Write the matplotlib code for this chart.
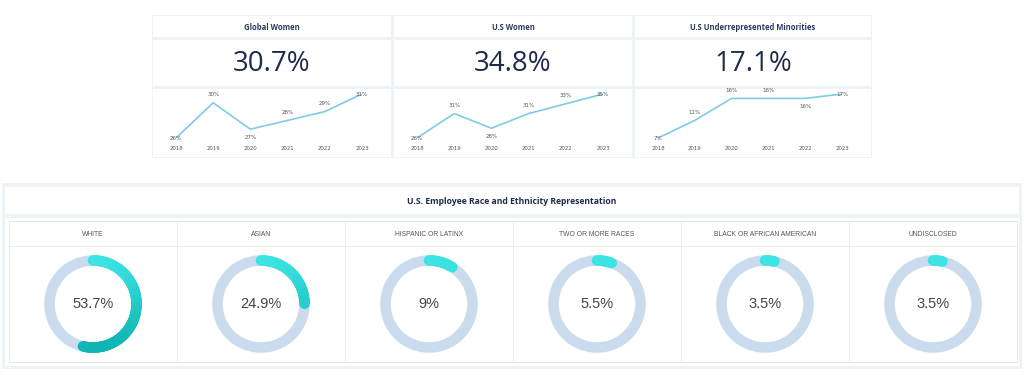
import numpy as np
import matplotlib
matplotlib.use("Agg")
import matplotlib.pyplot as plt
from matplotlib.patches import Rectangle

# ---------------- data ----------------
kpi_titles = ["Global Women", "U.S Women", "U.S Underrepresented Minorities"]
kpi_values = ["30.7%", "34.8%", "17.1%"]
years = [2018, 2019, 2020, 2021, 2022, 2023]
global_women = [26, 30, 27, 28, 29, 31]
us_women = [26, 31, 28, 31, 33, 35]
us_minorities = [7, 11, 16, 16, 16, 17]
series = [global_women, us_women, us_minorities]
# label placement (+1 above, -1 below, 0 on the point)
label_pos = [
    [0, 1, -1, 1, 1, 0],
    [0, 1, -1, 1, 1, 0],
    [0, 1, 1, 1, -1, 0],
]

section_title = "U.S. Employee Race and Ethnicity Representation"
groups = ["WHITE", "ASIAN", "HISPANIC OR LATINX", "TWO OR MORE RACES",
          "BLACK OR AFRICAN AMERICAN", "UNDISCLOSED"]
shares = [53.7, 24.9, 9, 5.5, 3.5, 3.5]

# ---------------- figure ----------------
W, H = 1024, 385
fig = plt.figure(figsize=(W / 100, H / 100), dpi=100)
fig.patch.set_facecolor("white")
bg = fig.add_axes([0, 0, 1, 1])
bg.set_xlim(0, W)
bg.set_ylim(H, 0)
bg.axis("off")

GAP = "#eef3f8"
BORDER = "#e3e9f0"
NAVY = "#1f2b4d"
LINE = "#7fcbe6"


def rect(x0, y0, x1, y1, fc="white", ec="none", lw=0.8, z=1):
    bg.add_patch(Rectangle((x0, y0), x1 - x0, y1 - y0, facecolor=fc,
                           edgecolor=ec, linewidth=lw, zorder=z))


def fig_axes(x0, y0, x1, y1):
    return fig.add_axes([x0 / W, 1 - y1 / H, (x1 - x0) / W, (y1 - y0) / H])


# top KPI panels
panel_x = [(153, 391), (394, 632), (635, 871)]
rect(152, 15, 872, 158, fc=GAP)
for i, (x0, x1) in enumerate(panel_x):
    rect(x0, 16, x1, 37)
    rect(x0, 40, x1, 86)
    rect(x0, 89, x1, 157)
    cx = (x0 + x1) / 2
    bg.text(cx, 27, kpi_titles[i], ha="center", va="center", fontsize=5.5,
            fontweight="bold", color="#2c3a5e", family=["Open Sans", "DejaVu Sans"], zorder=3)
    bg.text(cx, 64, kpi_values[i], ha="center", va="center", fontsize=20,
            color=NAVY, family=["Open Sans", "DejaVu Sans"], zorder=3)

    # sparkline
    ax = fig_axes(x0 + 23, 94, x1 - 29, 138)
    vals = series[i]
    ax.plot(years, vals, color=LINE, linewidth=1.2, zorder=2)
    ax.set_xlim(years[0], years[-1])
    lo, hi = min(vals), max(vals)
    ax.set_ylim(lo, hi)
    ax.axis("off")
    for yr, v, p in zip(years, vals, label_pos[i]):
        off = {1: 6, -1: -6, 0: 0}[p]
        ax.annotate(f"{v}%", (yr, v), xytext=(0, off), textcoords="offset points",
                    ha="center", va="center", fontsize=4.0, color="#555555",
                    zorder=3, annotation_clip=False)
    for yr in years:
        ax.annotate(str(yr), (yr, lo), xytext=(0, -7.5), textcoords="offset points",
                    ha="center", va="center", fontsize=3.9, color="#555555",
                    annotation_clip=False)

# bottom section
rect(2, 183, 1022, 369, fc=GAP)
rect(5, 187, 1019, 214)
bg.text(512, 201, section_title, ha="center", va="center", fontsize=6.2,
        fontweight="bold", color="#1f2b4d", family=["Open Sans", "DejaVu Sans"], zorder=3)
rect(5, 218, 1019, 366)
rect(9, 221, 1017, 362, fc="white", ec=BORDER, lw=0.7, z=2)
bg.plot([9, 1017], [246, 246], color=BORDER, lw=0.6, zorder=3)

n = len(groups)
col_w = (1017 - 9) / n
ring_bg = "#c9dbec"
top_col = np.array([0x3d, 0xe4, 0xe4]) / 255
bot_col = np.array([0x0f, 0xb5, 0xb2]) / 255
R = 43.5
lw_pt = 7.6

for k in range(n):
    x0 = 9 + k * col_w
    if k > 0:
        bg.plot([x0, x0], [221, 362], color=BORDER, lw=0.6, zorder=3)
    cx = x0 + col_w / 2
    bg.text(cx, 234, groups[k], ha="center", va="center", fontsize=4.9,
            color="#555555", family=["Liberation Sans", "DejaVu Sans"], zorder=3)

    ax = fig_axes(cx - 55, 304 - 55, cx + 55, 304 + 55)
    ax.set_xlim(-55, 55)
    ax.set_ylim(-55, 55)
    ax.set_aspect("equal")
    ax.axis("off")
    t = np.linspace(0, 2 * np.pi, 400)
    ax.plot(R * np.sin(t), R * np.cos(t), color=ring_bg, linewidth=lw_pt,
            solid_capstyle="butt", zorder=1)
    frac = shares[k] / 100
    m = max(int(200 * frac), 6)
    tt = np.linspace(0, 2 * np.pi * frac, m + 1)
    xs, ys = R * np.sin(tt), R * np.cos(tt)
    for j in range(m):
        yy = (ys[j] + ys[j + 1]) / 2
        f = (R - yy) / (2 * R)
        c = top_col * (1 - f) + bot_col * f
        ax.plot(xs[j:j + 2], ys[j:j + 2], color=c, linewidth=lw_pt,
                solid_capstyle="round", zorder=2)
    lbl = f"{shares[k]:g}%"
    ax.text(0, 0, lbl, ha="center", va="center", fontsize=10.5,
            color="#444444", family=["Liberation Sans", "DejaVu Sans"], zorder=3)

fig.savefig("out.png", dpi=100, facecolor="white")
